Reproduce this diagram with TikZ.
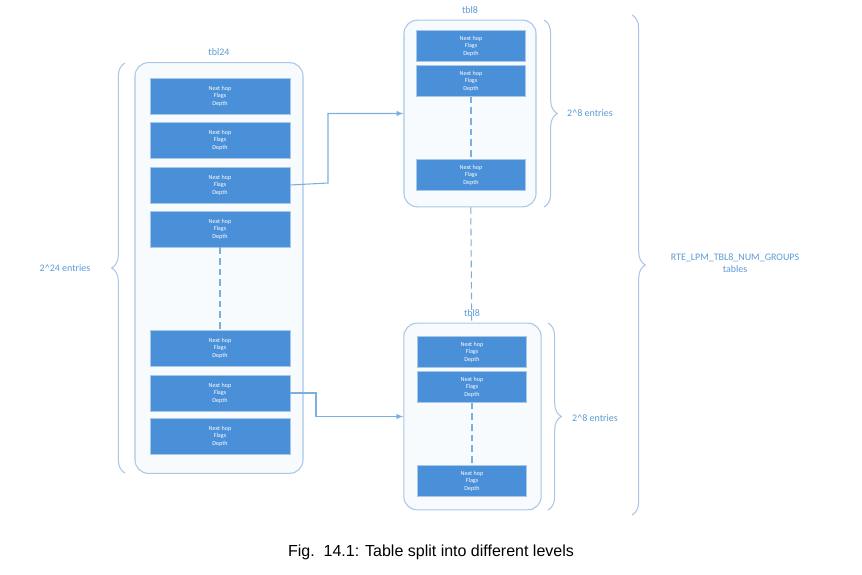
\documentclass[tikz,border=0pt]{standalone}
\usepackage{fontspec}
\setmainfont{Carlito}
\newfontfamily\capfont{Liberation Sans}
\usetikzlibrary{decorations.pathreplacing}
\definecolor{entryblue}{HTML}{4A90D9}
\definecolor{frameblue}{HTML}{A9C7E6}
\definecolor{labelblue}{HTML}{5B9BD5}
\begin{document}
\begin{tikzpicture}[
      x=0.75pt, y=-0.75pt,
      every node/.style={align=center},
      entry/.style={fill=entryblue, draw=frameblue, text=white, inner sep=0pt,
        font=\fontsize{4.6}{5.6}\selectfont},
      big/.style={entry, minimum width=105pt, minimum height=27pt},
      small/.style={entry, minimum width=82pt, minimum height=23pt},
      frame/.style={draw=frameblue, thick, rounded corners=10pt, fill=frameblue!8},
      lbl/.style={text=labelblue, font=\fontsize{7.5}{9}\selectfont},
      link/.style={draw=labelblue!80, thick},
      gap/.style={draw=labelblue!80, thick, dash pattern=on 5pt off 3pt},
      brc/.style={draw=frameblue, thick, decorate, decoration={brace, amplitude=10pt}}
    ]
\useasboundingbox (0,0) rectangle (862,574);

% Frames
      \node[frame, minimum width=126pt, minimum height=308pt] (t24) at (219,268) {};
      \node[frame, minimum width=99pt, minimum height=140pt] (ta) at (470,113.5) {};
      \node[frame, minimum width=103pt, minimum height=140pt] (tb) at (472.5,416.5) {};
      \node[lbl, above] at (219,60) {tbl24};
      \node[lbl, above] at (470,18) {tbl8};
      \node[lbl, above] at (472,321) {tbl8};

% tbl24 entries
      \node[big] (e1) at (220,96) {Next hop\\Flags\\Depth};
      \node[big] (e2) at (220,140) {Next hop\\Flags\\Depth};
      \node[big] (e3) at (220,185) {Next hop\\Flags\\Depth};
      \node[big] (e4) at (220,229) {Next hop\\Flags\\Depth};
      \node[big] (e5) at (220,348) {Next hop\\Flags\\Depth};
      \node[big] (e6) at (220,393) {Next hop\\Flags\\Depth};
      \node[big] (e7) at (220,436) {Next hop\\Flags\\Depth};

% tbl8 entries
      \node[small] (a1) at (471,46) {Next hop\\Flags\\Depth};
      \node[small] (a2) at (471,81) {Next hop\\Flags\\Depth};
      \node[small] (a3) at (471,175) {Next hop\\Flags\\Depth};
      \node[small] (b1) at (472,352) {Next hop\\Flags\\Depth};
      \node[small] (b2) at (472,387) {Next hop\\Flags\\Depth};
      \node[small] (b3) at (472,481) {Next hop\\Flags\\Depth};

% Connections
      \draw[gap] (e4) -- (e5);
      \draw[gap] (a2) -- (a3);
      \draw[gap] (b2) -- (b3);
      \draw[gap] (ta) -- (tb);
      \draw[link, -latex] (e3.east) -- (328,183) |- (ta.west);
      \draw[link, -latex] (e6.east) -- (316,393) |- (tb.west);

% Braces
      \draw[brc] (125,473) -- (125,63);
      \node[lbl] at (65,268) {2\textasciicircum 24 entries};
      \draw[brc] (544,20) -- (544,207);
      \node[lbl] at (590,113) {2\textasciicircum 8 entries};
      \draw[brc] (548,323) -- (548,510);
      \node[lbl] at (595,418) {2\textasciicircum 8 entries};
      \draw[brc] (632,15) -- (632,515);
      \node[lbl] at (735,263) {RTE\_LPM\_TBL8\_NUM\_GROUPS\\tables};

      \node[font=\capfont\fontsize{12}{14}\selectfont] at (431,552) {Fig.\ \ 14.1: Table split into different levels};
    \end{tikzpicture}
\end{document}
